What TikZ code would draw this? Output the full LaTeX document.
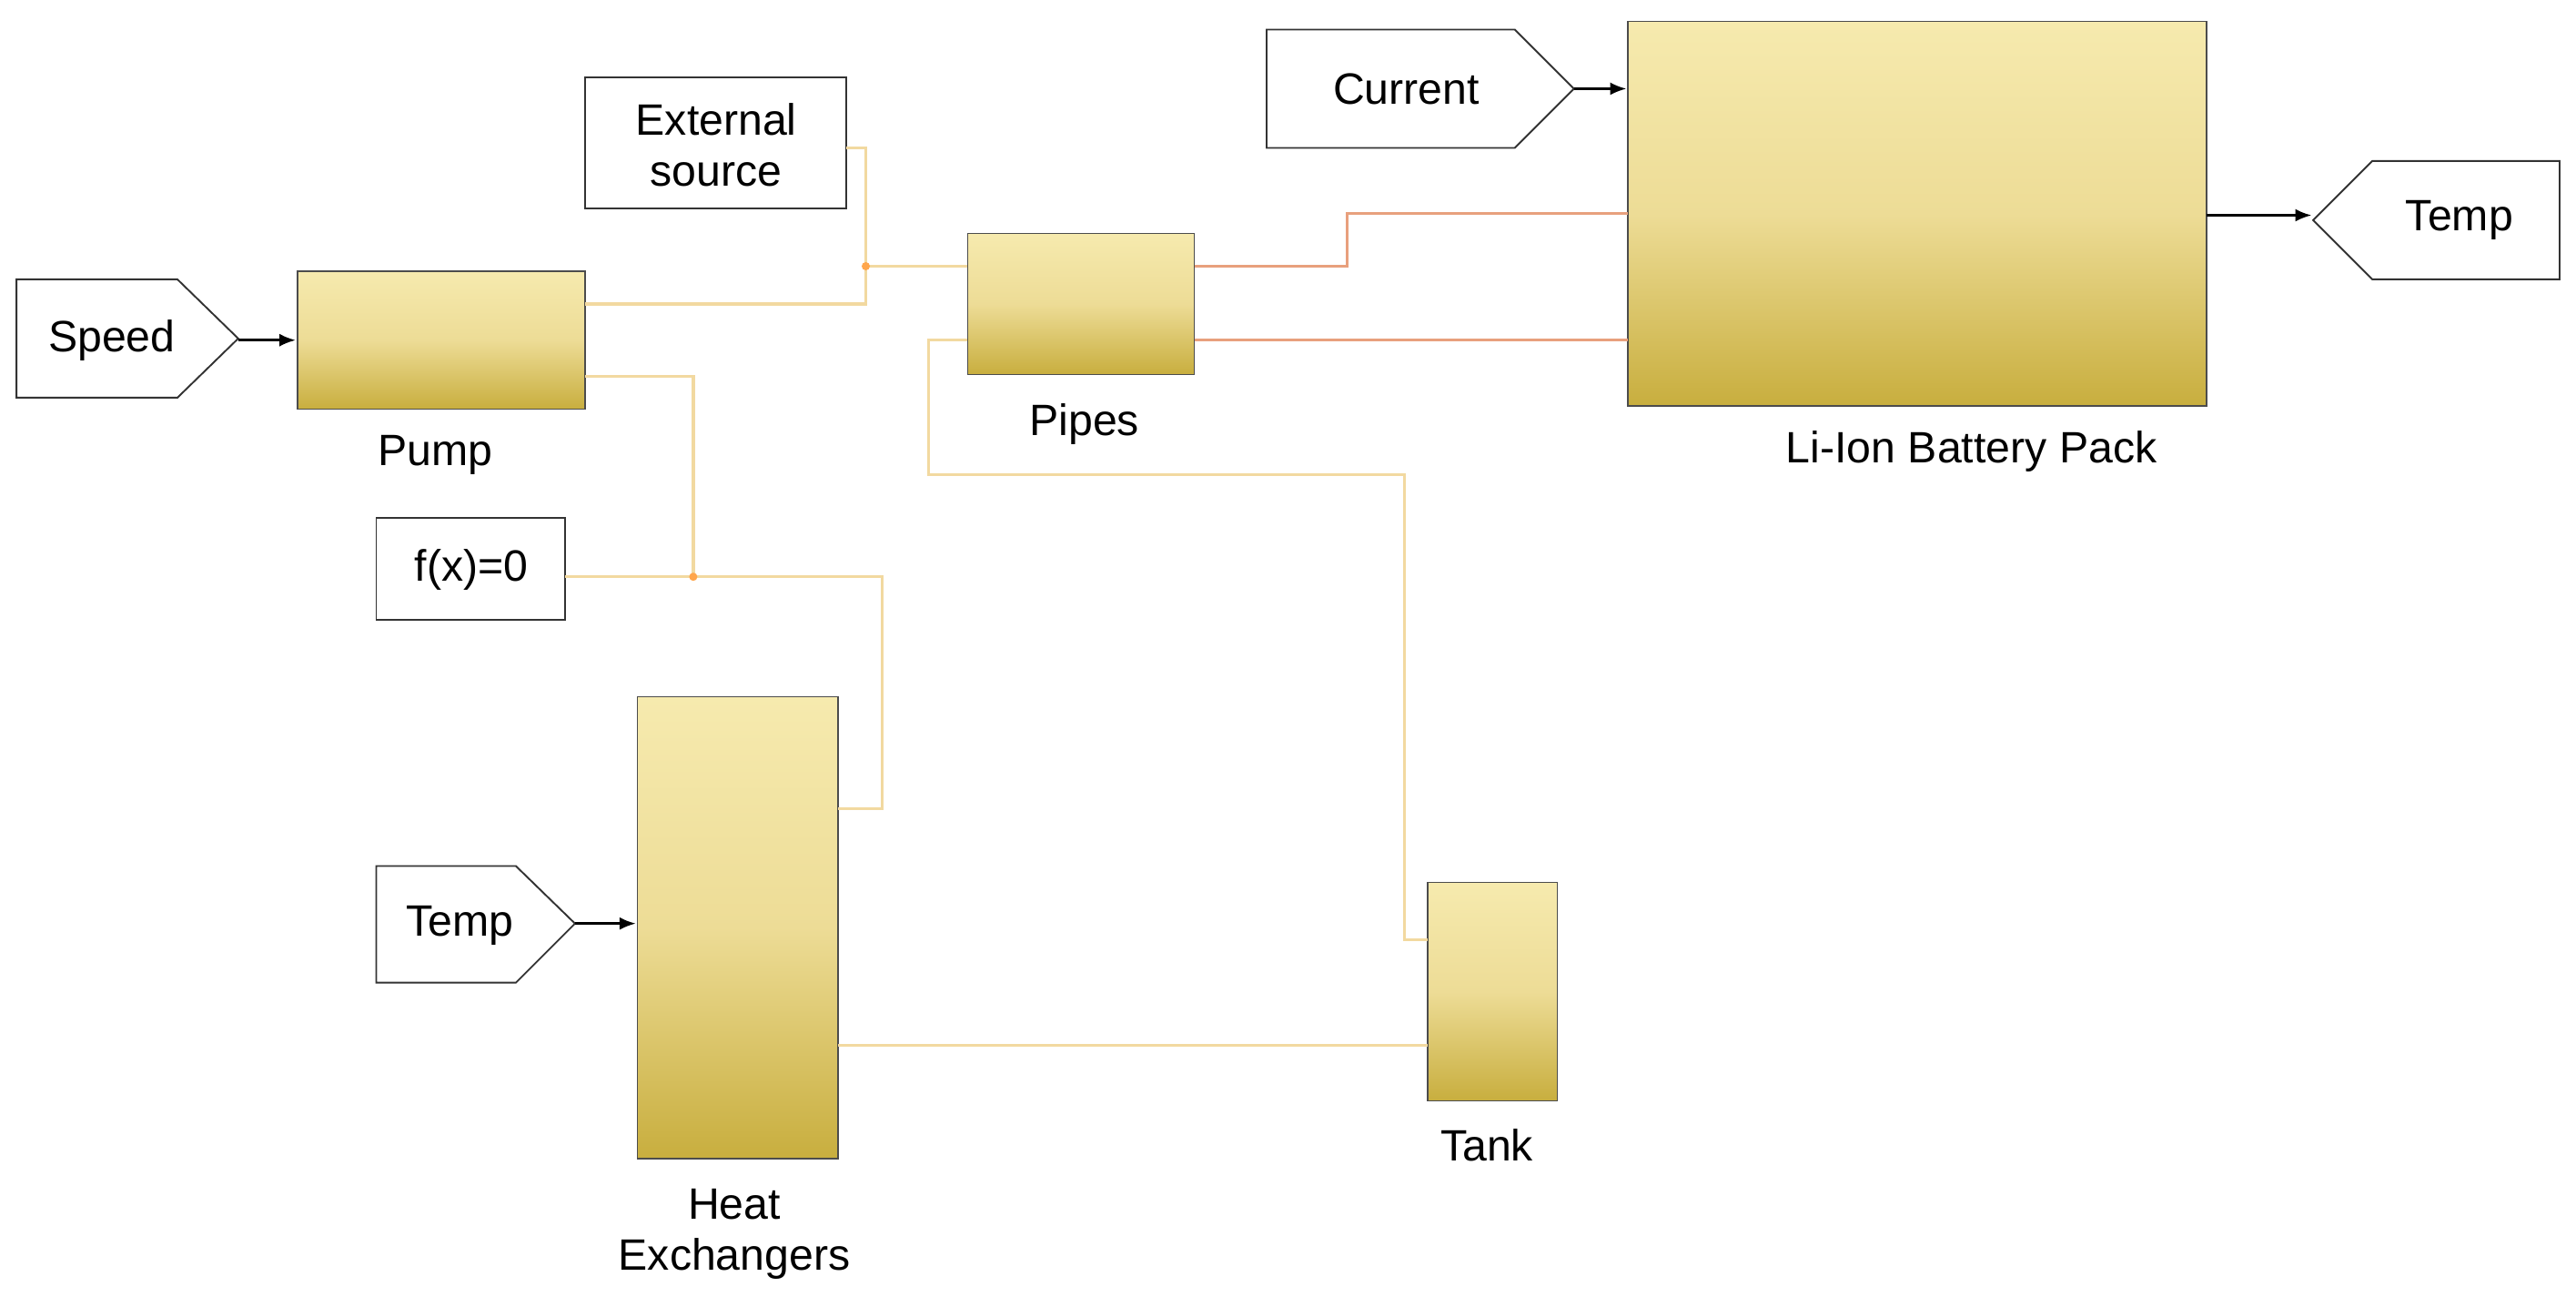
\documentclass[tikz,border=0pt]{standalone}
\usepackage{fontspec}
\setmainfont{Liberation Sans}
\usetikzlibrary{arrows.meta}
\definecolor{gtop}{HTML}{F6EAAE}
\definecolor{gmid}{HTML}{EDDC96}
\definecolor{gbot}{HTML}{C8AE3E}
\begin{document}
\begin{tikzpicture}[x=0.05cm,y=-0.05cm,
  blk/.style={draw=black!70,line width=1.2pt,top color=gtop,bottom color=gbot,middle color=gmid},
  tag/.style={draw=black!80,line width=1.5pt,fill=white},
  lbl/.style={font=\fontsize{38}{44}\selectfont},
  wire/.style={draw={rgb,255:red,242;green,217;blue,160},line width=2.5pt},
  owire/.style={draw={rgb,255:red,232;green,160;blue,125},line width=2.5pt},
  sig/.style={line width=2pt,-{Latex[length=14pt,width=11pt]}}]
\useasboundingbox (0,0) rectangle (1568,795);
% blocks
\path[blk] (181,165) rectangle (356,249);
\path[blk] (589,142) rectangle (727,228);
\path[blk] (991,13) rectangle (1343,247);
\path[blk] (388,424) rectangle (510,705);
\path[blk] (869,537) rectangle (948,670);
\node[lbl] (pumpL) at (265,277) {Pump};
\node[lbl] (pipesL) at (660,258) {Pipes};
\node[lbl] (battL) at (1200,275) {Li-Ion Battery Pack};
\node[lbl,align=center] (hxL) at (447,751) {Heat\\Exchangers};
\node[lbl] (tankL) at (905,697) {Tank};
% boxes
\draw[tag] (356,47) rectangle (515,127);
\node[lbl,align=center] (ext) at (436,88) {External\\source};
\draw[tag] (229,315) rectangle (344,377);
\node[lbl] (fx) at (287,347) {f(x)=0};
% tags
\draw[tag] (10,170) -- (108,170) -- (145,206) -- (108,242) -- (10,242) -- cycle;
\node[lbl] (speed) at (68,207) {Speed};
\draw[tag] (771,18) -- (922,18) -- (958,54) -- (922,90) -- (771,90) -- cycle;
\node[lbl] (cur) at (856,54) {Current};
\draw[tag] (229,527) -- (314,527) -- (350,562) -- (314,598) -- (229,598) -- cycle;
\node[lbl] (tin) at (280,563) {Temp};
\draw[tag] (1408,134) -- (1444,98) -- (1558,98) -- (1558,170) -- (1444,170) -- cycle;
\node[lbl] (tout) at (1497,134) {Temp};
% signals
\draw[sig] (145,207) -- (180,207);
\draw[sig] (958,54) -- (990,54);
\draw[sig] (350,562) -- (387,562);
\draw[sig] (1343,131) -- (1407,131);
% wires
\draw[wire] (356,185) -- (527,185) -- (527,162);
\draw[wire] (515,90) -- (527,90) -- (527,162) -- (589,162);
\draw[wire] (356,229) -- (422,229) -- (422,351);
\draw[wire] (344,351) -- (537,351) -- (537,492) -- (510,492);
\draw[wire] (589,207) -- (565,207) -- (565,289) -- (855,289) -- (855,572) -- (869,572);
\draw[wire] (510,636) -- (869,636);
\fill[orange!70] (527,162) circle (2.5) (422,351) circle (2.5);
\draw[owire] (727,162) -- (820,162) -- (820,130) -- (991,130);
\draw[owire] (727,207) -- (991,207);
\end{tikzpicture}
\end{document}
